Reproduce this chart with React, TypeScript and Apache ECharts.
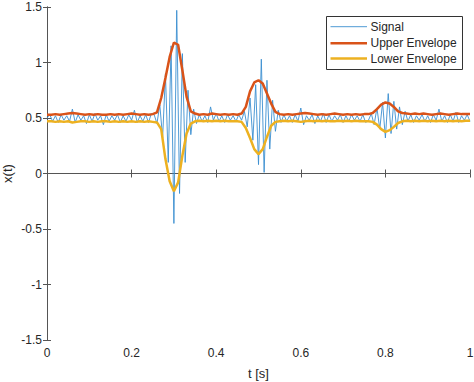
import React, { useEffect, useRef } from "react";
import * as echarts from "echarts";

// Signal sampled every 1/150 s from t = 0 to t = 1
const SIGNAL_DT = 1 / 150;
const signal = [
  0.50, 0.53, 0.47, 0.52, 0.46, 0.53, 0.48, 0.52, 0.47, 0.58,
  0.46, 0.53, 0.48, 0.52, 0.45, 0.53, 0.47, 0.54, 0.48, 0.52,
  0.44, 0.53, 0.47, 0.52, 0.48, 0.53, 0.46, 0.52, 0.47, 0.53,
  0.48, 0.57, 0.46, 0.52, 0.47, 0.53, 0.46, 0.54, 0.53, 0.45,
  0.62, 0.32, 0.90, 0.10, 1.15, -0.45, 1.47, -0.18, 1.08, 0.10,
  0.75, 0.35, 0.58, 0.45, 0.53, 0.47, 0.52, 0.46, 0.60, 0.48,
  0.54, 0.47, 0.52, 0.46, 0.53, 0.48, 0.52, 0.47, 0.53, 0.48,
  0.56, 0.42, 0.68, 0.30, 0.80, 0.08, 1.03, 0.01, 0.84, 0.22,
  0.66, 0.38, 0.57, 0.46, 0.53, 0.47, 0.52, 0.46, 0.53, 0.47,
  0.59, 0.44, 0.52, 0.48, 0.53, 0.45, 0.52, 0.47, 0.54, 0.46,
  0.53, 0.47, 0.52, 0.48, 0.53, 0.46, 0.52, 0.47, 0.53, 0.48,
  0.52, 0.47, 0.53, 0.46, 0.48, 0.54, 0.44, 0.59, 0.40, 0.64,
  0.32, 0.72, 0.36, 0.65, 0.40, 0.60, 0.44, 0.56, 0.47, 0.53,
  0.46, 0.52, 0.48, 0.53, 0.47, 0.52, 0.46, 0.53, 0.48, 0.58,
  0.47, 0.52, 0.46, 0.53, 0.47, 0.55, 0.46, 0.52, 0.48, 0.53,
  0.47,
];

// Envelopes sampled every 0.01 s from t = 0 to t = 1
const ENV_DT = 0.01;
const upperEnvelope = [
  0.53, 0.53, 0.535, 0.53, 0.535, 0.54, 0.545, 0.54, 0.535, 0.53,
  0.535, 0.53, 0.535, 0.53, 0.53, 0.535, 0.53, 0.535, 0.53, 0.535,
  0.54, 0.535, 0.53, 0.535, 0.53, 0.535, 0.55, 0.68, 0.86, 1.05,
  1.18, 1.16, 0.93, 0.69, 0.56, 0.54, 0.53, 0.535, 0.53, 0.54,
  0.535, 0.53, 0.535, 0.53, 0.535, 0.53, 0.54, 0.60, 0.74, 0.82,
  0.84, 0.81, 0.72, 0.63, 0.555, 0.535, 0.53, 0.535, 0.53, 0.535,
  0.54, 0.545, 0.54, 0.535, 0.53, 0.535, 0.53, 0.535, 0.54, 0.535,
  0.53, 0.535, 0.53, 0.535, 0.53, 0.535, 0.535, 0.545, 0.58, 0.62,
  0.64, 0.63, 0.60, 0.56, 0.545, 0.54, 0.535, 0.54, 0.535, 0.54,
  0.535, 0.53, 0.535, 0.54, 0.535, 0.53, 0.535, 0.54, 0.535, 0.535,
  0.535,
];
const lowerEnvelope = [
  0.47, 0.47, 0.465, 0.47, 0.465, 0.47, 0.46, 0.465, 0.47, 0.47,
  0.465, 0.47, 0.465, 0.47, 0.47, 0.465, 0.47, 0.465, 0.47, 0.465,
  0.47, 0.465, 0.47, 0.465, 0.47, 0.465, 0.46, 0.40, 0.13, -0.07,
  -0.16, -0.08, 0.16, 0.36, 0.45, 0.47, 0.475, 0.47, 0.475, 0.47,
  0.475, 0.47, 0.475, 0.47, 0.47, 0.47, 0.465, 0.41, 0.32, 0.22,
  0.175, 0.22, 0.33, 0.43, 0.465, 0.47, 0.475, 0.47, 0.475, 0.47,
  0.465, 0.47, 0.475, 0.47, 0.475, 0.47, 0.475, 0.47, 0.47, 0.475,
  0.47, 0.475, 0.47, 0.475, 0.47, 0.47, 0.47, 0.465, 0.44, 0.40,
  0.375, 0.39, 0.42, 0.455, 0.47, 0.475, 0.47, 0.475, 0.47, 0.475,
  0.47, 0.475, 0.47, 0.475, 0.47, 0.475, 0.47, 0.475, 0.47, 0.475,
  0.475,
];

const seriesNames = ["Signal", "Upper Envelope", "Lower Envelope"];
const xTitle = "t [s]";
const yTitle = "x(t)";

const FONT = "'Liberation Sans', Arial, Helvetica, sans-serif";
const AXIS_COLOR = "#555";
const TEXT_COLOR = "#262626";
const SIGNAL_COLOR = "#3b8fd0";
const UPPER_COLOR = "#D95319";
const LOWER_COLOR = "#EDB120";
const seriesColors = [SIGNAL_COLOR, UPPER_COLOR, LOWER_COLOR];
const seriesWidths = [0.9, 2.5, 2.5];

export default function App() {
  const ref = useRef<HTMLDivElement>(null);
  useEffect(() => {
    if (!ref.current) return;
    const chart = echarts.init(ref.current, undefined, { renderer: "svg" });
    const tickCfg = { show: true, inside: true, length: 4, lineStyle: { color: AXIS_COLOR, width: 1 } };
    const lineCfg = { show: true, lineStyle: { color: AXIS_COLOR, width: 1 } };

    // Legend drawn as graphic elements (box, line samples, labels)
    const legBox = { x: 326.5, y: 16.5, w: 136, h: 53 };
    const rowY = [26.7, 43.2, 58.5];
    const legendChildren: any[] = [
      {
        type: "rect",
        shape: { x: legBox.x, y: legBox.y, width: legBox.w, height: legBox.h },
        style: { fill: "#fff", stroke: "#333", lineWidth: 1 },
      },
    ];
    seriesNames.forEach((name, k) => {
      legendChildren.push({
        type: "line",
        shape: { x1: 330.5, y1: rowY[k], x2: 367, y2: rowY[k] },
        style: { stroke: seriesColors[k], lineWidth: seriesWidths[k] },
      });
      legendChildren.push({
        type: "text",
        x: 370.5,
        y: rowY[k],
        style: {
          text: name,
          fill: TEXT_COLOR,
          font: `12px ${FONT}`,
          verticalAlign: "middle",
          align: "left",
        },
      });
    });

    chart.setOption({
      animation: false,
      backgroundColor: "#fff",
      textStyle: { fontFamily: FONT },
      grid: { left: 47, right: 4, top: 7, bottom: 42, containLabel: false, outerBoundsMode: "none" },
      graphic: [{ type: "group", z: 100, children: legendChildren }],
      xAxis: [
        {
          type: "value",
          min: 0,
          max: 1,
          interval: 0.2,
          position: "bottom",
          axisLine: lineCfg,
          axisTick: tickCfg,
          splitLine: { show: false },
          axisLabel: { color: TEXT_COLOR, fontSize: 12, fontFamily: FONT, margin: 7 },
          name: xTitle,
          nameLocation: "middle",
          nameGap: 27,
          nameMoveOverlap: false,
          nameTextStyle: { color: TEXT_COLOR, fontSize: 13, fontFamily: FONT },
        },
        {
          type: "value",
          min: 0,
          max: 1,
          interval: 0.2,
          position: "top",
          axisLine: lineCfg,
          axisTick: tickCfg,
          splitLine: { show: false },
          axisLabel: { show: false },
        },
      ],
      yAxis: [
        {
          type: "value",
          min: -1.5,
          max: 1.5,
          interval: 0.5,
          position: "left",
          axisLine: lineCfg,
          axisTick: tickCfg,
          splitLine: { show: false },
          axisLabel: { color: TEXT_COLOR, fontSize: 12, fontFamily: FONT, margin: 5 },
          name: yTitle,
          nameLocation: "middle",
          nameGap: 33,
          nameRotate: 90,
          nameMoveOverlap: false,
          nameTextStyle: { color: TEXT_COLOR, fontSize: 13, fontFamily: FONT },
        },
        {
          type: "value",
          min: -1.5,
          max: 1.5,
          interval: 0.5,
          position: "right",
          axisLine: lineCfg,
          axisTick: tickCfg,
          splitLine: { show: false },
          axisLabel: { show: false },
        },
      ],
      series: [
        {
          name: seriesNames[0],
          type: "line",
          xAxisIndex: 0,
          yAxisIndex: 0,
          symbol: "none",
          color: SIGNAL_COLOR,
          lineStyle: { width: seriesWidths[0], color: SIGNAL_COLOR },
          data: signal.map((v, i) => [i * SIGNAL_DT, v]),
          z: 2,
        },
        {
          name: seriesNames[1],
          type: "line",
          xAxisIndex: 0,
          yAxisIndex: 0,
          symbol: "none",
          color: UPPER_COLOR,
          lineStyle: { width: seriesWidths[1], color: UPPER_COLOR },
          data: upperEnvelope.map((v, i) => [i * ENV_DT, v]),
          z: 3,
        },
        {
          name: seriesNames[2],
          type: "line",
          xAxisIndex: 0,
          yAxisIndex: 0,
          symbol: "none",
          color: LOWER_COLOR,
          lineStyle: { width: seriesWidths[2], color: LOWER_COLOR },
          data: lowerEnvelope.map((v, i) => [i * ENV_DT, v]),
          z: 4,
        },
      ],
    });
    return () => chart.dispose();
  }, []);
  return (
    <div
      ref={ref}
      style={{ position: "fixed", left: 0, top: 0, width: 474, height: 382, background: "#fff" }}
    />
  );
}
